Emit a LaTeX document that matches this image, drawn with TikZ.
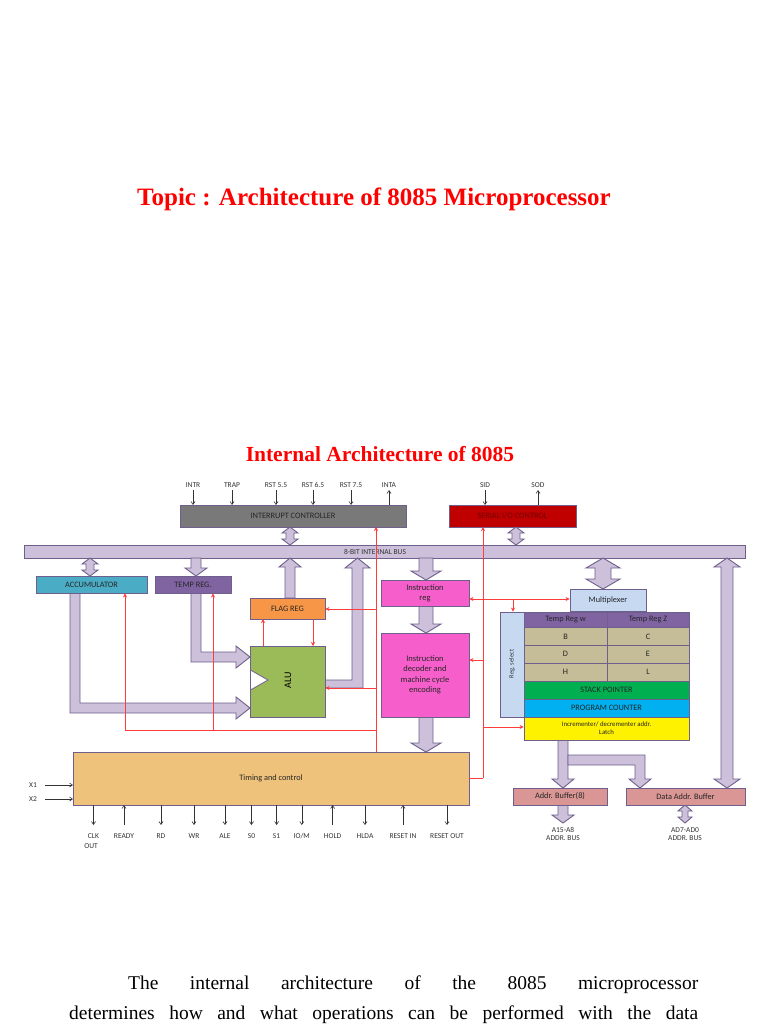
\documentclass[tikz,border=0pt]{standalone}
\usepackage{fontspec}
\setmainfont{Liberation Serif}
\newfontfamily\calf{Carlito}
\usetikzlibrary{arrows.meta}
\definecolor{busc}{HTML}{CCC0DA}
\definecolor{bord}{HTML}{6E5F8C}
\definecolor{redl}{HTML}{FF3B3B}
\definecolor{accc}{HTML}{4BACC6}
\definecolor{tmpc}{HTML}{8064A2}
\definecolor{flagc}{HTML}{F79646}
\definecolor{aluc}{HTML}{9BBB59}
\definecolor{pinkc}{HTML}{F65FCB}
\definecolor{muxc}{HTML}{C6D9F1}
\definecolor{regc}{HTML}{C4BD97}
\definecolor{spc}{HTML}{00B050}
\definecolor{pcc}{HTML}{00B0F0}
\definecolor{tcc}{HTML}{EEC27A}
\definecolor{bufc}{HTML}{D99694}
\definecolor{serc}{HTML}{C00000}
\newcommand\FatDown[6]{\draw[fat] ({#1-#4},#2)--({#1-#4},{#3-#6})--({#1-#5},{#3-#6})--(#1,#3)--({#1+#5},{#3-#6})--({#1+#4},{#3-#6})--({#1+#4},#2)--cycle;}
\newcommand\FatUp[6]{\draw[fat] ({#1-#4},#3)--({#1-#4},{#2+#6})--({#1-#5},{#2+#6})--(#1,#2)--({#1+#5},{#2+#6})--({#1+#4},{#2+#6})--({#1+#4},#3)--cycle;}
\newcommand\FatBoth[6]{\draw[fat] ({#1-#4},{#3-#6})--({#1-#5},{#3-#6})--(#1,#3)--({#1+#5},{#3-#6})--({#1+#4},{#3-#6})--({#1+#4},{#2+#6})--({#1+#5},{#2+#6})--(#1,#2)--({#1-#5},{#2+#6})--({#1-#4},{#2+#6})--cycle;}
\tikzset{
 box/.style={draw=bord, line width=0.9pt, inner sep=0pt, font=\calf\fontsize{8.3}{9.5}\selectfont, align=center, text=black!85},
 fat/.style={draw=bord, fill=busc, line width=0.9pt, line join=miter},
 rl/.style={draw=redl, line width=0.7pt},
 ra/.style={rl, -{Stealth[length=4pt,width=4pt]}},
 sig/.style={draw=black!80, line width=0.6pt, -{Straight Barb[length=3pt,width=4pt]}},
 lab/.style={font=\calf\fontsize{7.5}{8}\selectfont, inner sep=0pt, align=center, text=black!80},
}
\begin{document}
\begin{tikzpicture}[x=1pt,y=-1pt]
\useasboundingbox[fill=white] (0,0) rectangle (768,1024);
\node[text=red, font=\bfseries\fontsize{25}{28}\selectfont] (title) at (374,199) {Topic : Architecture of 8085 Microprocessor};
\node[text=red, font=\bfseries\fontsize{21.5}{24}\selectfont] (sub) at (380,454) {Internal Architecture of 8085};

% bus
\node[box, fill=busc, minimum width=721, minimum height=13] (bus) at (384.5,551.5) {};
\node[lab] (buslab) at (375,551.5) {8-BIT INTERNAL BUS};

% top boxes
\node[box, fill=gray!95!black, minimum width=226, minimum height=22] (ic) at (293,516) {INTERRUPT CONTROLLER};
\node[box, fill=serc, text=red!45!black, minimum width=127, minimum height=22] (sio) at (512.5,516) {SERIAL I/O CONTROL};

% fat arrows
\FatBoth{290}{527}{545}{4}{8}{6}
\FatBoth{516}{527}{545}{4}{8}{6}
\FatBoth{90}{558}{576}{4}{8}{6}
\FatDown{196}{558}{576}{5}{11}{8}
\FatUp{290}{558}{598}{5}{11}{9}
\draw[fat] (325,680)--(352,680)--(352,568)--(345,568)--(357.5,558)--(370,568)--(363,568)--(363,688)--(325,688)--cycle;
\draw[fat] (191,593)--(191,662)--(236,662)--(236,668)--(250,657)--(236,646)--(236,652)--(201,652)--(201,593)--cycle;
\draw[fat] (70,593)--(70,713)--(236,713)--(236,719)--(250,708)--(236,697)--(236,703)--(80,703)--(80,593)--cycle;
\FatDown{426}{558}{580}{7}{15}{9}
\FatDown{426}{606}{633}{7}{15}{9}
\FatDown{426}{717}{752}{7}{15}{9}
\FatBoth{603}{558}{589}{8}{17}{10}
\FatBoth{727}{558}{788}{6}{13}{9}
\draw[fat] (558,740)--(558,779)--(552,779)--(563,788)--(574,779)--(568,779)--(568,740)--cycle;
\draw[fat] (568,755)--(645,755)--(645,779)--(651,779)--(640,788)--(629,779)--(635,779)--(635,765)--(568,765)--cycle;
\FatDown{563}{805}{823}{5}{11}{8}
\FatBoth{685}{805}{823}{3}{7}{6}

% boxes
\node[box, fill=accc, minimum width=111, minimum height=17] (acc) at (91.5,584.5) {ACCUMULATOR};
\node[box, fill=tmpc, minimum width=76, minimum height=17] (tmp) at (193,584.5) {TEMP REG.};
\node[box, fill=flagc, minimum width=75, minimum height=21] (flag) at (287.5,608.5) {FLAG REG};
\node[box, fill=aluc, minimum width=75, minimum height=71] (alu) at (287.5,681.5) {};
\draw[draw=bord, fill=white, line width=0.8pt] (250.5,670)--(268,680)--(250.5,690)--cycle;
\node[font=\calf\fontsize{10}{11}\selectfont, rotate=90] (alulab) at (288,680) {ALU};
\node[box, fill=pinkc, minimum width=88, minimum height=26, font=\calf\fontsize{8.5}{10}\selectfont] (ir) at (425,593) {Instruction\\reg};
\node[box, fill=pinkc, minimum width=88, minimum height=84, font=\calf\fontsize{8.5}{10.5}\selectfont] (dec) at (425,675) {Instruction\\decoder and\\machine cycle\\encoding};
\node[box, fill=muxc, minimum width=76, minimum height=22] (mux) at (608,600) {Multiplexer};
\node[box, fill=muxc, minimum width=24, minimum height=105] (rs) at (512,664.5) {};
\node[lab, rotate=90, font=\calf\fontsize{6.5}{7}\selectfont] (rslab) at (512,664) {Reg. select};
\node[box, fill=tmpc, minimum width=83, minimum height=16] (tw) at (565.5,620) {Temp Reg w};
\node[box, fill=tmpc, minimum width=82, minimum height=16] (tz) at (648,620) {Temp Reg Z};
\node[box, fill=regc, minimum width=83, minimum height=17.5] (rb) at (565.5,636.5) {B};
\node[box, fill=regc, minimum width=82, minimum height=17.5] (rc) at (648,636.5) {C};
\node[box, fill=regc, minimum width=83, minimum height=18] (rd) at (565.5,654) {D};
\node[box, fill=regc, minimum width=82, minimum height=18] (re) at (648,654) {E};
\node[box, fill=regc, minimum width=83, minimum height=18] (rh) at (565.5,672) {H};
\node[box, fill=regc, minimum width=82, minimum height=18] (rlr) at (648,672) {L};
\node[box, fill=spc, minimum width=165, minimum height=18] (sp) at (606.5,690) {STACK POINTER};
\node[box, fill=pcc, minimum width=165, minimum height=18] (pc) at (606.5,708) {PROGRAM COUNTER};
\node[box, fill=yellow, minimum width=165, minimum height=23, font=\calf\fontsize{6.8}{8}\selectfont] (inc) at (606.5,728.5) {Incrementer/ decrementer addr.\\Latch};
\node[box, fill=tcc, minimum width=396, minimum height=53] (tc) at (271,778.5) {Timing and control};
\node[box, fill=bufc, minimum width=94, minimum height=17] (ab) at (560,796.5) {Addr. Buffer(8)};
\node[box, fill=bufc, minimum width=119, minimum height=17] (db) at (685.5,796.5) {Data Addr. Buffer};
\node[lab] (a15) at (563,834) {A15-A8\\ADDR. BUS};
\node[lab] (ad7) at (685,834) {AD7-AD0\\ADDR. BUS};

% red control lines
\coordinate (r1t) at (376,527); \coordinate (r1b) at (376,752);
\draw[ra] (r1b) -- (r1t);
\coordinate (r1f) at (376,609); \coordinate (r1a) at (376,688);
\draw[ra] (r1f) -- (flag.east |- r1f);
\draw[ra] (r1a) -- (alu.east |- r1a);
\coordinate (hl) at (376,730); \coordinate (hl1) at (125,730); \coordinate (hl2) at (213,730);
\draw[rl] (hl) -- (hl1);
\draw[ra] (hl1) -- (hl1 |- acc.south);
\draw[ra] (hl2) -- (hl2 |- tmp.south);
\draw[ra] (263,646) -- (263,619);
\draw[ra] (313,619) -- (313,646);
\coordinate (r2t) at (483,527); \coordinate (r2b) at (483,778);
\draw[ra] (r2b) -- (r2t);
\draw[rl] (r2b) -- (tc.east |- r2b);
\coordinate (r2i) at (483,599); \coordinate (r2d) at (483,660); \coordinate (r2y) at (483,727);
\draw[rl, {Stealth[length=4pt,width=4pt]}-{Stealth[length=4pt,width=4pt]}] (ir.east |- r2i) -- (mux.west |- r2i);
\draw[ra] (r2d) -- (dec.east |- r2d);
\draw[ra] (r2y) -- (inc.west |- r2y);
\coordinate (rsj) at (513,599);
\draw[ra] (rsj) -- (rsj |- rs.north);

% top signals
\foreach \x/\t [count=\i] in {193/INTR,232/TRAP,276/RST 5.5,313/RST 6.5,351/RST 7.5}{
 \node[lab] (ts\i) at (\x,485) {\t};
 \draw[sig] (\x,490) -- (\x,505);}
\node[lab] (inta) at (389,485) {INTA};
\draw[sig] (389,505) -- (389,490);
\node[lab] (sid) at (485,485) {SID};
\draw[sig] (485,490) -- (485,505);
\node[lab] (sod) at (538,485) {SOD};
\draw[sig] (538,505) -- (538,490);

% X1 X2
\node[lab] (x1) at (33,785) {X1};
\node[lab] (x2) at (33,799) {X2};
\draw[sig] (45,785) -- (73,785);
\draw[sig] (45,799) -- (73,799);

% bottom signals
\foreach \x/\t/\d [count=\i] in {93.5/CLK/0,124/READY/1,161/RD/0,194/WR/0,225/ALE/0,251.5/S0/0,276.6/S1/0,301.8/{IO/M}/0,332.6/HOLD/1,365/HLDA/0,403/RESET IN/1,447/RESET OUT/0}{
 \node[lab] (bs\i) at (\x,836) {\t};
 \ifnum\d=0 \draw[sig] (\x,805) -- (\x,825); \else \draw[sig] (\x,825) -- (\x,805); \fi}
\node[lab] (clkout) at (91,846) {OUT};

% text
\node[anchor=west, inner sep=0pt, font=\fontsize{19.5}{22}\selectfont] (p1) at (128,985) {\makebox[570pt][s]{The internal architecture of the 8085 microprocessor}};
\node[anchor=west, inner sep=0pt, font=\fontsize{19.5}{22}\selectfont] (p2) at (69,1015) {\makebox[629pt][s]{determines how and what operations can be performed with the data}};
\end{tikzpicture}
\end{document}
